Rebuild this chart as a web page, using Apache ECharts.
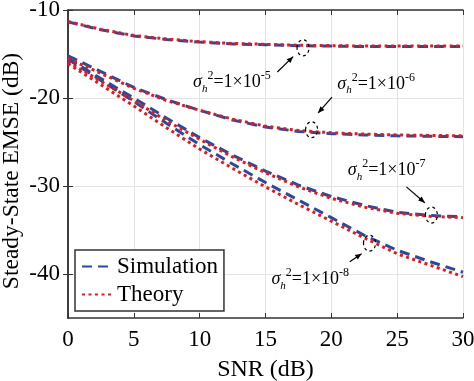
<!DOCTYPE html>
<html><head><meta charset="utf-8">
<script src="https://cdn.jsdelivr.net/npm/echarts@6/dist/echarts.min.js"></script>
<style>html,body{margin:0;padding:0;background:#fff}#c{width:474px;height:381px}</style>
</head><body><div id="c"></div>
<script>
const snr = [0,2.5,5,7.5,10,12.5,15,17.5,20,22.5,25,27.5,30];
const xTicks = [0,5,10,15,20,25,30];
const yTicks = [-40,-30,-20,-10];

const sim5 = [-11.35,-12.25,-12.95,-13.35,-13.65,-13.85,-13.95,-14.05,-14.1,-14.15,-14.15,-14.15,-14.15];
const th5  = [-11.3,-12.2,-12.9,-13.3,-13.6,-13.8,-13.9,-14.0,-14.05,-14.1,-14.1,-14.1,-14.1];
const sim6 = [-15.2,-17.0,-18.8,-20.2,-21.4,-22.5,-23.3,-23.8,-24.05,-24.2,-24.3,-24.35,-24.4];
const th6  = [-15.5,-17.2,-18.9,-20.3,-21.4,-22.4,-23.2,-23.7,-23.95,-24.1,-24.2,-24.25,-24.3];
const sim7 = [-15.5,-17.8,-20.0,-22.3,-24.5,-26.5,-28.3,-29.9,-31.2,-32.2,-33.0,-33.35,-33.5];
const th7  = [-15.9,-18.1,-20.3,-22.6,-24.7,-26.7,-28.5,-30.1,-31.4,-32.4,-33.1,-33.45,-33.6];
const sim8 = [-15.6,-18.0,-20.4,-22.9,-25.3,-27.5,-29.6,-31.6,-33.6,-35.6,-37.3,-38.6,-39.8];
const th8  = [-16.1,-18.5,-20.9,-23.4,-25.8,-28.0,-30.1,-32.1,-34.0,-35.9,-37.7,-39.0,-40.3];

const annos = [
  {exp:'-5', circle:[17.85,-14.3], arrowFrom:[15.9,-17.05], arrowTo:[17.1,-15.3], text:[12.45,-18.2]},
  {exp:'-6', circle:[18.5,-23.6], arrowFrom:[20.05,-19.9], arrowTo:[19.0,-21.7], text:[23.4,-18.4]},
  {exp:'-7', circle:[27.6,-33.3], arrowFrom:[25.7,-30.1], arrowTo:[27.1,-31.9], text:[24.2,-28.2]},
  {exp:'-8', circle:[22.9,-36.5], arrowFrom:[21.4,-38.6], arrowTo:[22.3,-37.7], text:[18.4,-40.6]}
];

const SERIF = '"Liberation Serif","Times New Roman",serif';
const BLUE = '#2b4a9c', RED = '#e31a1c';
const zip = a => snr.map((x,i)=>[x,a[i]]);
function simS(d){return {name:'Simulation', type:'line', data:zip(d), symbol:'none', z:2,
  lineStyle:{color:BLUE, width:3, type:[10,6]}, itemStyle:{color:BLUE}};}
function thS(d){return {name:'Theory', type:'line', data:zip(d), symbol:'none', z:3,
  lineStyle:{color:RED, width:3, type:[3,3.5], cap:'butt'}, itemStyle:{color:RED}};}

const chart = echarts.init(document.getElementById('c'));
const axisLine = {show:true, lineStyle:{color:'#333', width:1.5}};
chart.setOption({
  animation:false,
  backgroundColor:'#fff',
  grid:{left:68, right:11, top:10, bottom:63, containLabel:false, outerBoundsMode:'none'},
  xAxis:[{type:'value', min:0, max:30, interval:5, position:'bottom',
    axisLine, axisTick:{inside:true, length:5, lineStyle:{color:'#333'}},
    axisLabel:{color:'#000', fontFamily:SERIF, fontSize:23, margin:10},
    splitLine:{show:true, lineStyle:{color:'#e3e3e3', width:1}},
    name:'SNR (dB)', nameLocation:'middle', nameGap:40, nameMoveOverlap:false,
    nameTextStyle:{color:'#000', fontFamily:SERIF, fontSize:24}},
   {type:'value', min:0, max:30, interval:5, position:'top',
    axisLine, axisTick:{inside:true, length:5, lineStyle:{color:'#333'}},
    axisLabel:{show:false}, splitLine:{show:false}}],
  yAxis:[{type:'value', min:-45, max:-10, position:'left',
    axisLine, axisTick:{inside:true, length:5, customValues:yTicks, lineStyle:{color:'#333'}},
    axisLabel:{customValues:yTicks, color:'#000', fontFamily:SERIF, fontSize:23, margin:8},
    splitLine:{show:true, lineStyle:{color:'#e3e3e3', width:1}},
    name:'Steady-State EMSE (dB)', nameLocation:'middle', nameGap:44, nameMoveOverlap:false,
    nameTextStyle:{color:'#000', fontFamily:SERIF, fontSize:23.5, padding:[0,14,0,0]}},
   {type:'value', min:-45, max:-10, position:'right',
    axisLine, axisTick:{inside:true, length:5, customValues:yTicks, lineStyle:{color:'#333'}},
    axisLabel:{show:false}, splitLine:{show:false}}],
  legend:{orient:'vertical', left:75, top:250, data:['Simulation','Theory'],
    backgroundColor:'#fff', borderColor:'#333', borderWidth:1.5, borderRadius:0,
    padding:[5,6,5,6], itemGap:5, itemWidth:30, itemHeight:14,
    itemStyle:{opacity:0},
    textStyle:{color:'#000', fontFamily:SERIF, fontSize:23}},
  series:[simS(sim5),thS(th5),simS(sim6),thS(th6),
          simS(sim7),thS(th7),simS(sim8),thS(th8)]
});

const px = p => chart.convertToPixel({xAxisIndex:0, yAxisIndex:0}, p);
const gr = [];
annos.forEach(a=>{
  const c = px(a.circle);
  gr.push({type:'ellipse', shape:{cx:c[0], cy:c[1], rx:6, ry:8}, z:10,
    style:{fill:'none', stroke:'#000', lineWidth:1.2, lineDash:[3,3]}});
  const f = px(a.arrowFrom), t = px(a.arrowTo);
  gr.push({type:'line', shape:{x1:f[0], y1:f[1], x2:t[0], y2:t[1]}, z:10,
    style:{stroke:'#000', lineWidth:1.2}});
  const ang = Math.atan2(t[1]-f[1], t[0]-f[0]), L=7, W=0.4;
  gr.push({type:'polygon', z:10, shape:{points:[[t[0],t[1]],
    [t[0]-L*Math.cos(ang-W), t[1]-L*Math.sin(ang-W)],
    [t[0]-L*Math.cos(ang+W), t[1]-L*Math.sin(ang+W)]]}, style:{fill:'#000'}});
  const p = px(a.text);
  gr.push({type:'text', x:p[0], y:p[1], z:10, style:{
    text:'{s|σ}{sub|h}{sup|2}{n|=1×10}{sup|'+a.exp+'}',
    align:'center', verticalAlign:'middle',
    rich:{
      s:{fontFamily:SERIF, fontStyle:'italic', fontSize:18, lineHeight:24, fill:'#000', verticalAlign:'middle'},
      n:{fontFamily:SERIF, fontSize:18, lineHeight:24, fill:'#000', verticalAlign:'middle'},
      sub:{fontFamily:SERIF, fontStyle:'italic', fontSize:11, lineHeight:12, fill:'#000', verticalAlign:'bottom'},
      sup:{fontFamily:SERIF, fontSize:12, lineHeight:12, fill:'#000', verticalAlign:'top'}
    }}});
});
chart.setOption({graphic:gr});
</script></body></html>
